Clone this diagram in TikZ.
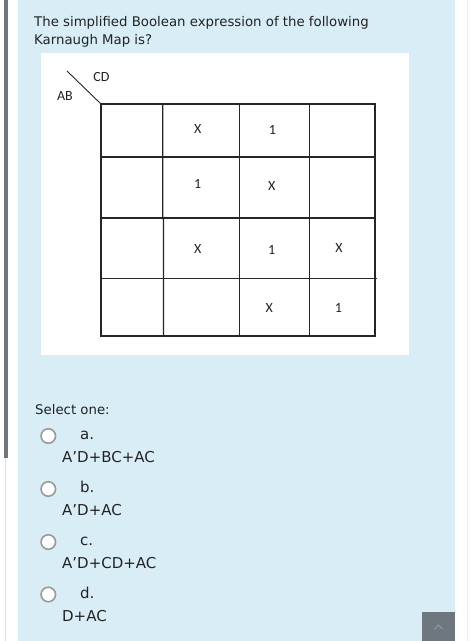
\documentclass[tikz,border=0pt]{standalone}
\usepackage{fontspec}
\setmainfont{DejaVu Sans}
\newfontfamily\kmapfont{Carlito}
\usetikzlibrary{positioning}
\definecolor{panelblue}{HTML}{D9EDF7}
\definecolor{scrollgray}{HTML}{6E767E}
\definecolor{inkgray}{HTML}{222222}

\begin{document}
\begin{tikzpicture}[
    x=1pt, y=-1pt,
    qtext/.style={anchor=base west, inner sep=0pt, text=inkgray, font=\fontsize{13.3}{15}\selectfont},
    atext/.style={anchor=base west, inner sep=0pt, text=inkgray, font=\fontsize{15}{18}\selectfont},
    kmap/.style={inner sep=0pt, text=inkgray, font=\kmapfont\fontsize{14}{16}\selectfont},
    radio/.style={circle, draw=gray!80, line width=1.6pt, fill=white, minimum size=14.5pt, inner sep=0pt},
    grid/.style={draw=black!85, line width=1.2pt}
]

% Page, panel and scroll bars
\useasboundingbox (0,0) rectangle (474,641);
\fill[white] (0,0) rectangle (474,641);
\fill[panelblue] (18,0) rectangle (455,641);
\fill[scrollgray] (4,0) rectangle (7.5,458);
\draw[gray!25, line width=1pt] (5.8,458) -- (5.8,641);
\draw[gray!12, line width=1pt] (467,0) -- (467,641);
\fill[scrollgray] (422,612) rectangle (455,641);
\draw[scrollgray!70!panelblue, line width=1pt] (434.5,629) -- (438.5,625) -- (442.5,629);

% Question
\node[qtext] (q1) at (34,26) {The simplified Boolean expression of the following};
\node[qtext] (q2) at (34,44) {Karnaugh Map is?};

% Karnaugh map
\fill[white] (41,53) rectangle (409,355);
\coordinate (corner) at (101,104);
\coordinate (diag) at (67,71);
\draw[grid, line width=0.9pt] (diag) -- (corner);
\node[kmap] (cd) at (101.5,76.5) {CD};
\node[kmap] (ab) at (65,96) {AB};

\draw[grid] (101,104) rectangle (375,336);
\draw[grid] (101,157) -- (375,157);
\draw[grid] (101,218) -- (375,218);
\draw[grid] (101,278.5) -- (376.5,278.5);
\draw[grid] (162.7,104) -- (162.7,218) -- (163.5,220) -- (163.5,336);
\draw[grid] (239.3,104) -- (239.3,336);
\draw[grid] (309.3,104) -- (309.3,336);

% Cell values
\node[kmap] (r1c2) at (197.7,129.5) {X};
\node[kmap] (r1c3) at (272.3,130) {1};
\node[kmap] (r2c2) at (197.7,184) {1};
\node[kmap] (r2c3) at (271.7,186.5) {X};
\node[kmap] (r3c2) at (197.7,249.5) {X};
\node[kmap] (r3c3) at (271.7,249.5) {1};
\node[kmap] (r3c4) at (339,248) {X};
\node[kmap] (r4c3) at (269.3,308) {X};
\node[kmap] (r4c4) at (338.3,308) {1};

% Answers
\node[qtext] (select) at (35,414) {Select one:};

\node[radio] (radioA) at (48.3,436) {};
\node[atext] (optA) at (80,439) {a.};
\node[atext] (ansA) at (62,462) {A’D+BC+AC};

\node[radio] (radioB) at (48.3,489) {};
\node[atext] (optB) at (80,492) {b.};
\node[atext] (ansB) at (62,515) {A’D+AC};

\node[radio] (radioC) at (48.3,542) {};
\node[atext] (optC) at (80,545) {c.};
\node[atext] (ansC) at (62,568) {A’D+CD+AC};

\node[radio] (radioD) at (48.3,594.5) {};
\node[atext] (optD) at (80,598) {d.};
\node[atext] (ansD) at (62,621) {D+AC};

\end{tikzpicture}
\end{document}
